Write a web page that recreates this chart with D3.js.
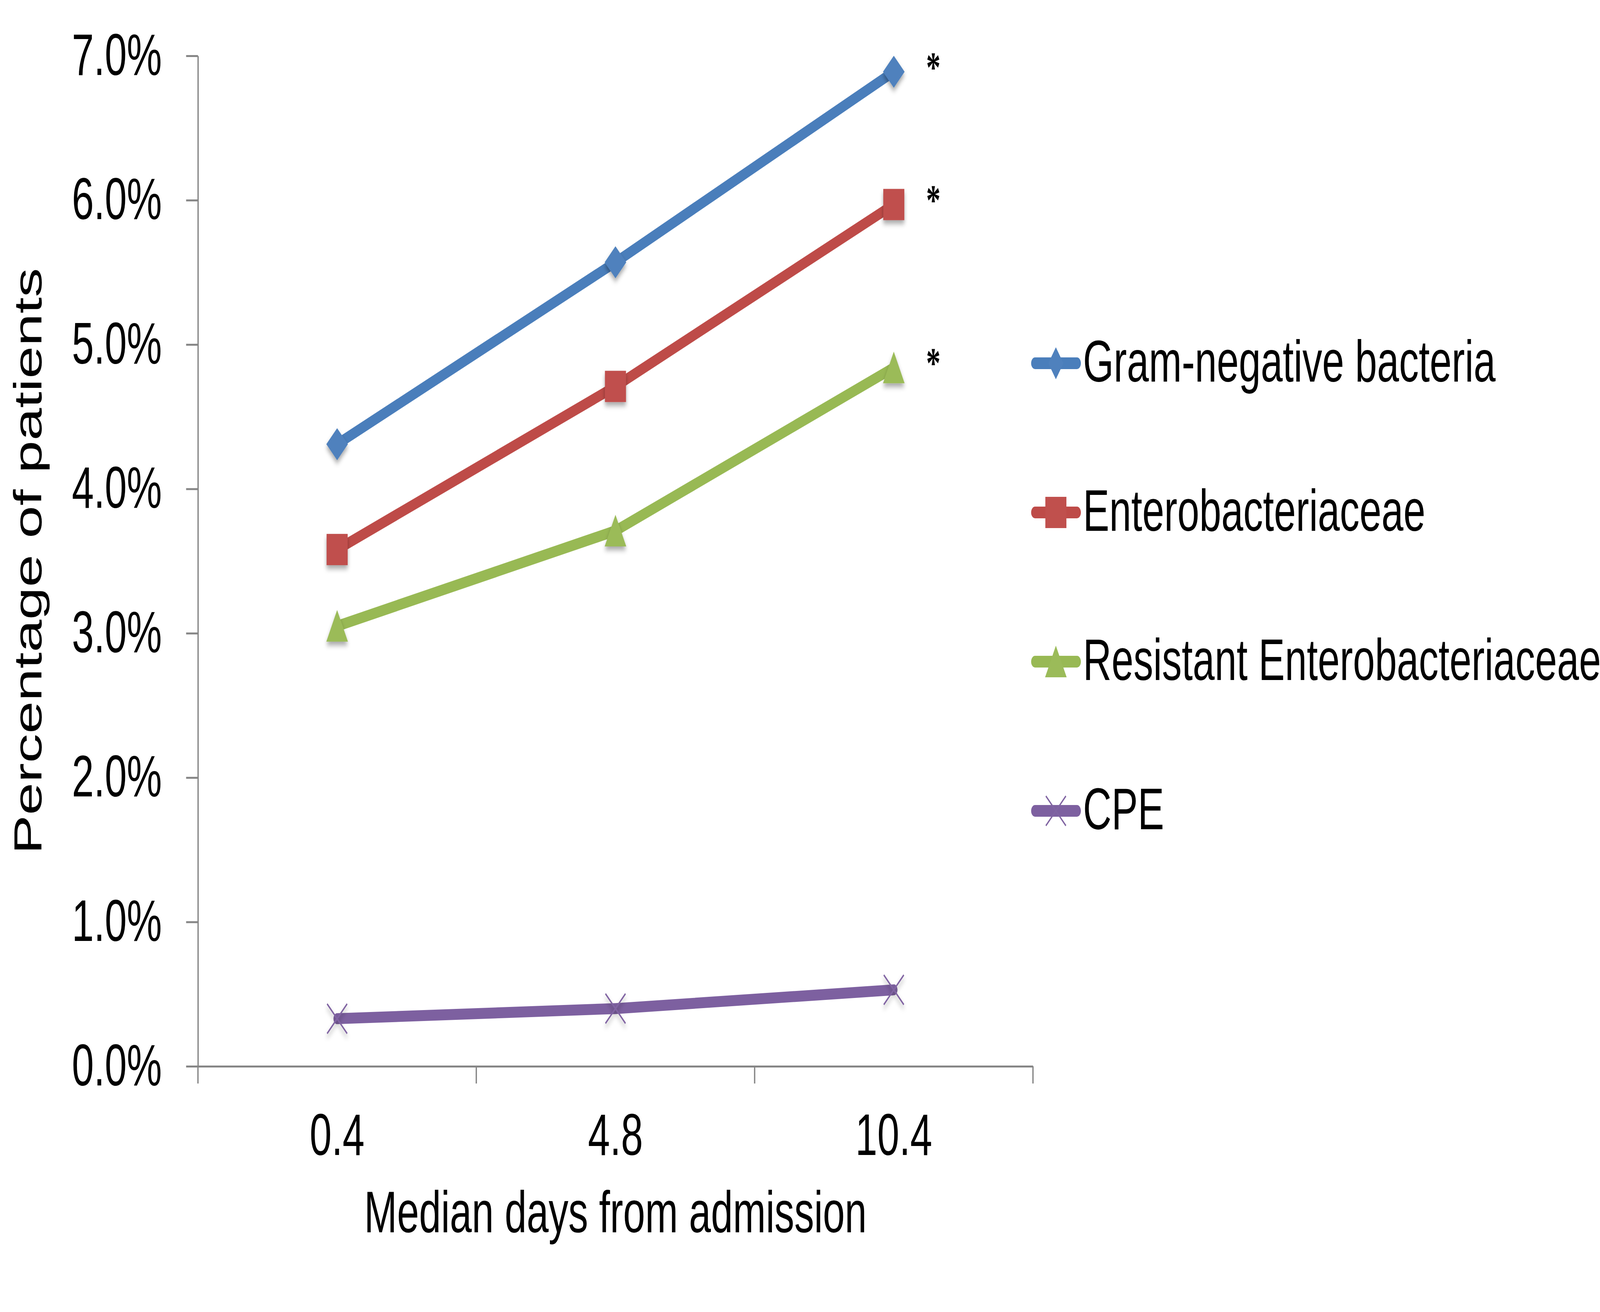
<!DOCTYPE html>
<html>
<head>
<meta charset="utf-8">
<script src="https://cdn.jsdelivr.net/npm/d3@7"></script>
<style>
  html, body { margin: 0; padding: 0; background: #fff; overflow: hidden; }
  svg { display: block; }
  text { font-family: "Liberation Sans", Arial, sans-serif; fill: #000; }
</style>
</head>
<body>
<script>
var width = 6078, height = 3359;

// data
var days = ["0.4", "4.8", "10.4"];
var seriesNames = ["Gram-negative bacteria", "Enterobacteriaceae", "Resistant Enterobacteriaceae", "CPE"];
var gramNegative = [0.0431, 0.0557, 0.0689];
var enterobacteriaceae = [0.0358, 0.0471, 0.0597];
var resistantEntero = [0.0305, 0.0371, 0.0484];
var cpe = [0.0033, 0.0040, 0.0053];
var yTicks = [0, 0.01, 0.02, 0.03, 0.04, 0.05, 0.06, 0.07];
var significant = [true, true, true, false];

var lineColors = ["#4A7EBB", "#BE4B48", "#98B954", "#7D60A0"];
var markColors = ["#4F81BD", "#C0504D", "#9BBB59", "#8064A2"];
var markers = ["diamond", "square", "triangle", "x"];

var allSeries = [gramNegative, enterobacteriaceae, resistantEntero, cpe];

// the whole drawing is laid out in 6078x3359 units and stretched to the window
var svg = d3.select("body").append("svg")
    .attr("width", "100vw")
    .attr("height", "100vh")
    .attr("viewBox", "0 0 " + width + " " + height)
    .attr("preserveAspectRatio", "none");

var defs = svg.append("defs");
var shadow = defs.append("filter").attr("id", "shadow")
    .attr("x", "-50%").attr("y", "-50%").attr("width", "200%").attr("height", "200%");
shadow.append("feDropShadow")
    .attr("dx", 0).attr("dy", 9).attr("stdDeviation", 7)
    .attr("flood-color", "#000").attr("flood-opacity", 0.35);

var x = d3.scaleBand().domain(days).range([752, 3924]).padding(0);
var y = d3.scaleLinear().domain([0, 0.07]).range([2730, 143]);

var axisColor = "#868686";

// y axis
var yAxis = svg.append("g")
    .attr("transform", "translate(" + x.range()[0] + ",0)")
    .call(d3.axisLeft(y).tickValues(yTicks).tickFormat(d3.format(".1%"))
        .tickSize(45).tickSizeOuter(0).tickPadding(92));
yAxis.selectAll("text").style("font-size", "150px");

// x axis: labels centred in the bands, ticks on the band edges
var xAxis = svg.append("g")
    .attr("transform", "translate(0," + y(0) + ")")
    .call(d3.axisBottom(x).tickSize(0).tickSizeOuter(0).tickPadding(121));
xAxis.selectAll("text").style("font-size", "150px");

var edges = d3.range(days.length + 1).map(function(i) { return x.range()[0] + i * x.step(); });
xAxis.selectAll(".edge")
    .data(edges)
    .enter()
    .append("line")
    .attr("class", "edge")
    .attr("x1", function(d) { return d; })
    .attr("x2", function(d) { return d; })
    .attr("y1", 0)
    .attr("y2", 44);

svg.selectAll(".domain, .tick line, .edge")
    .attr("stroke", axisColor)
    .attr("stroke-width", 5);

// axis titles
svg.append("text")
    .attr("x", (x.range()[0] + x.range()[1]) / 2)
    .attr("y", 3155)
    .attr("text-anchor", "middle")
    .style("font-size", "150px")
    .text("Median days from admission");

svg.append("text")
    .attr("transform", "translate(158," + (y(0) + y(0.07)) / 2 + ") rotate(-90)")
    .attr("text-anchor", "middle")
    .style("font-size", "150px")
    .text("Percentage of patients");

// marker shapes
function drawMarker(g, type, color, sx) {
    sx = sx || 1;
    if (type == "diamond") {
        g.append("path").attr("d", "M0,-41L" + 41 * sx + ",0L0,41L" + (-41 * sx) + ",0Z").attr("fill", color);
    } else if (type == "square") {
        g.append("rect").attr("x", -40).attr("y", -40).attr("width", 80).attr("height", 80).attr("fill", color);
    } else if (type == "triangle") {
        g.append("path").attr("d", "M0,-41L41,40L-41,40Z").attr("fill", color);
    } else {
        g.append("path").attr("d", "M-38,-38L38,38M-38,38L38,-38")
            .attr("stroke", color).attr("stroke-width", 4.5).attr("fill", "none");
    }
}

var line = d3.line()
    .x(function(d, i) { return x(days[i]) + x.bandwidth() / 2; })
    .y(function(d) { return y(d); });

allSeries.forEach(function(values, s) {
    svg.append("path")
        .datum(values)
        .attr("d", line)
        .attr("fill", "none")
        .attr("stroke", lineColors[s])
        .attr("stroke-width", 28)
        .attr("stroke-linecap", "round")
        .attr("stroke-linejoin", "round");
});

allSeries.forEach(function(values, s) {
    values.forEach(function(v, i) {
        var g = svg.append("g")
            .attr("transform", "translate(" + (x(days[i]) + x.bandwidth() / 2) + "," + y(v) + ")")
            .attr("filter", "url(#shadow)");
        drawMarker(g, markers[s], markColors[s]);
    });
});

// significance asterisks next to the last point
allSeries.forEach(function(values, s) {
    if (!significant[s]) return;
    var last = values.length - 1;
    svg.append("text")
        .attr("x", x(days[last]) + x.bandwidth() / 2 + 150)
        .attr("y", y(values[last]) + 25)
        .attr("text-anchor", "middle")
        .style("font-family", "'Liberation Serif', 'Times New Roman', serif")
        .style("font-weight", "bold")
        .style("font-size", "110px")
        .text("*");
});

// legend
var legend = svg.selectAll(".legend")
    .data(seriesNames)
    .enter()
    .append("g")
    .attr("class", "legend")
    .attr("transform", function(d, i) { return "translate(3917," + (930 + i * 382) + ")"; });

legend.append("line")
    .attr("x1", 15).attr("x2", 174)
    .attr("y1", 0).attr("y2", 0)
    .attr("stroke", function(d, i) { return lineColors[i]; })
    .attr("stroke-width", 30)
    .attr("stroke-linecap", "round");

legend.each(function(d, i) {
    var g = d3.select(this).append("g").attr("transform", "translate(94,0)");
    drawMarker(g, markers[i], markColors[i], 0.7);
});

legend.append("text")
    .attr("x", 197)
    .attr("y", 47)
    .style("font-size", "150px")
    .text(function(d) { return d; });
</script>
</body>
</html>
